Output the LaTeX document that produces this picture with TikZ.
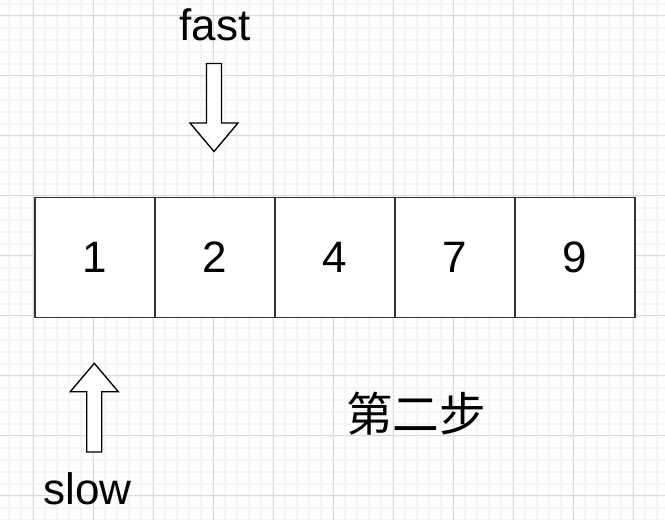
\documentclass[tikz,border=0pt]{standalone}
\usepackage{fontspec}
\setmainfont{Liberation Sans}
\newfontfamily\cjk{Noto Sans CJK SC}

\tikzset{every picture/.style={line width=0.75pt}}
\tikzset{
  cell/.style={draw={rgb, 255:red, 51; green, 51; blue, 51}, fill=white, line width=1pt, minimum width=120*0.75pt, minimum height=120*0.75pt, inner sep=0pt, font=\fontsize{33}{40}\selectfont},
  label/.style={inner sep=0pt, font=\fontsize{33}{40}\selectfont},
  blockarrow/.style={draw=black, fill=white, line width=1pt, line join=miter}
}

\begin{document}
\begin{tikzpicture}[x=0.75pt,y=0.75pt,yscale=-1,xscale=1]
	\useasboundingbox (0,0) rectangle (665,520);
	\fill[white] (0,0) rectangle (665,520);

	%Grid minor
	\foreach \gx in {9,21,...,665} \draw[color={rgb, 255:red, 245; green, 245; blue, 245}, line width=1pt] (\gx,0) -- (\gx,520);
	\foreach \gy in {4,16,...,520} \draw[color={rgb, 255:red, 245; green, 245; blue, 245}, line width=1pt] (0,\gy) -- (665,\gy);
	%Grid major
	\foreach \gx in {33,93,...,665} \draw[color={rgb, 255:red, 217; green, 217; blue, 217}] (\gx,0) -- (\gx,520);
	\foreach \gy in {16,76,...,520} \draw[color={rgb, 255:red, 217; green, 217; blue, 217}] (0,\gy) -- (665,\gy);

	%Shape: Rectangles [cells]
	\node[cell] (c1) at (95,257.5) {1};
	\node[cell] (c2) at (215,257.5) {2};
	\node[cell] (c3) at (335,257.5) {4};
	\node[cell] (c4) at (455,257.5) {7};
	\node[cell] (c5) at (575,257.5) {9};

	%Shape: Down Arrow [fast]
	\draw[blockarrow] (206.5,63.5) -- (221.5,63.5) -- (221.5,123) -- (238,123) -- (214,151.5) -- (190,123) -- (206.5,123) -- cycle ;
	%Shape: Up Arrow [slow]
	\draw[blockarrow] (86.8,452) -- (101.8,452) -- (101.8,391.7) -- (118.3,391.7) -- (94.3,363.3) -- (70.3,391.7) -- (86.8,391.7) -- cycle ;

	% Text Node
	\node[label, anchor=base] (fast) at (215,41) {fast};
	% Text Node
	\node[label, anchor=base] (slow) at (87.5,505) {slow};
	% Text Node
	\node[label, font=\cjk\fontsize{35}{42}\selectfont] (step) at (416,414) {第二步};

\end{tikzpicture}
\end{document}
